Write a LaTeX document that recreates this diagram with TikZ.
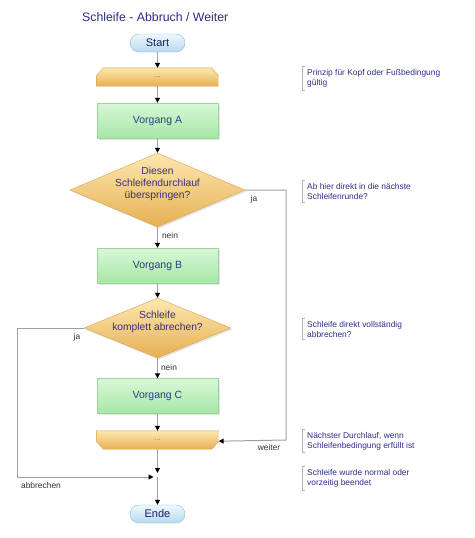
\documentclass[tikz,border=0pt]{standalone}
\usepackage{fontspec}
\setmainfont{Liberation Sans}
\usetikzlibrary{arrows.meta,shapes.geometric,shadows,backgrounds,calc}
\definecolor{titletxt}{HTML}{2D2D86}
\definecolor{cmttxt}{HTML}{2E2E8A}
\definecolor{proctxt}{HTML}{2B3F80}
\definecolor{dectxt}{HTML}{3D2D7D}
\definecolor{termtxt}{HTML}{1A1A6E}
\definecolor{lbltxt}{HTML}{333333}
\definecolor{procTop}{HTML}{D8F8D8}
\definecolor{procBot}{HTML}{A6E6A6}
\definecolor{procBorder}{HTML}{9CD49C}
\definecolor{decTop}{HTML}{FDE8AE}
\definecolor{decBot}{HTML}{E6B054}
\definecolor{decBorder}{HTML}{D2A452}
\definecolor{termTop}{HTML}{EEF8FC}
\definecolor{termBot}{HTML}{B6DAEE}
\definecolor{termBorder}{HTML}{8DBEDC}
\definecolor{linegray}{HTML}{A0A0A0}
\definecolor{brkgray}{HTML}{B4B4B4}
\definecolor{dotcol}{HTML}{A87A3A}
\begin{document}
\begin{tikzpicture}[x=1pt,y=-1pt,
  every node/.style={inner sep=0pt},
  proc/.style={draw=procBorder, top color=procTop, bottom color=procBot,
    minimum width=121pt, minimum height=35pt, text=proctxt,
    font=\fontsize{10.5}{12}\selectfont,
    drop shadow={shadow xshift=1.5pt, shadow yshift=-1.5pt, opacity=0.2}},
  dec/.style={diamond, draw=decBorder, top color=decTop, bottom color=decBot,
    aspect=2.36, drop shadow={shadow xshift=1.5pt, shadow yshift=-1.5pt, opacity=0.2}},
  dectext/.style={align=center, text=dectxt, font=\fontsize{10.3}{12}\selectfont},
  term/.style={draw=termBorder, top color=termTop, bottom color=termBot,
    rounded corners=9pt, minimum width=55pt, minimum height=18pt, text=termtxt,
    font=\fontsize{11}{13}\selectfont},
  loopbox/.style={minimum width=122pt, minimum height=18pt, text=dotcol,
    font=\fontsize{8}{10}\selectfont},
  loopshape/.style={draw=decBorder, top color=decTop, bottom color=decBot},
  flow/.style={draw=linegray, line width=1pt, -{Triangle[length=5pt,width=5pt,color=black]}},
  lbl/.style={text=lbltxt, font=\fontsize{8.4}{10}\selectfont},
  cmt/.style={anchor=west, align=left, text=cmttxt, font=\fontsize{8.4}{10}\selectfont},
  brk/.style={draw=brkgray, line width=0.8pt}
]
\useasboundingbox (0,0) rectangle (474,538);
\begin{pgfonlayer}{background}
\fill[white] (0,0) rectangle (474,538);
\end{pgfonlayer}

% title
\node[text=titletxt, font=\fontsize{12.3}{14}\selectfont, anchor=west] (title) at (82,17) {Schleife - Abbruch / Weiter};

% nodes
\node[term] (start) at (157.5,43) {Start};
\node[loopbox] (hex1) at (157.5,77) {...};
\node[proc] (va) at (157.5,120.5) {Vorgang A};
\node[dec, minimum width=175pt, minimum height=74pt] (d1) at (157.5,190) {};
\node[dectext] (d1t) at ([yshift=6pt]d1.center) {Diesen\\Schleifendurchlauf\\überspringen?};
\node[proc] (vb) at (157.5,265.5) {Vorgang B};
\node[dec, minimum width=147pt, minimum height=60pt] (d2) at (157.5,328) {};
\node[dectext] (d2t) at ([yshift=6pt]d2.center) {Schleife\\komplett abrechen?};
\node[proc] (vc) at (157.5,396) {Vorgang C};
\node[loopbox] (hex2) at (157.5,440) {...};
\node[term] (ende) at (157.5,514) {Ende};

% loop shapes
\begin{pgfonlayer}{background}
\path[loopshape] (hex1.south west) -- ([yshift=-8pt]hex1.north west) -- ([xshift=7pt]hex1.north west)
  -- ([xshift=-7pt]hex1.north east) -- ([yshift=-8pt]hex1.north east) -- (hex1.south east) -- cycle;
\path[loopshape] (hex2.north west) -- (hex2.north east) -- ([yshift=8pt]hex2.south east)
  -- ([xshift=-7pt]hex2.south east) -- ([xshift=7pt]hex2.south west) -- ([yshift=8pt]hex2.south west) -- cycle;
\end{pgfonlayer}

% helper coordinates
\coordinate (rj) at (286,440);
\coordinate (lj) at (17,477);
\coordinate (junc) at (157.5,477);

% connectors
\draw[flow] (start) -- (hex1);
\draw[flow] (hex1) -- (va);
\draw[flow] (va) -- (d1);
\draw[flow] (d1) -- (vb);
\draw[flow] (vb) -- (d2);
\draw[flow] (d2) -- (vc);
\draw[flow] (vc) -- (hex2);
\draw[flow] (d1.east) -| (rj) -- ([yshift=8pt]hex2.south east);
\draw[flow, shorten >=4pt] (hex2) -- (junc);
\draw[flow, shorten >=4pt] (d2.west) -| (lj) -- (junc);
\draw[flow] (junc) -- (ende);

% connector labels
\node[lbl] (lja1) at (254,199) {ja};
\node[lbl] (lnein1) at (170,235) {nein};
\node[lbl] (lja2) at (77,337) {ja};
\node[lbl] (lnein2) at (169,367) {nein};
\node[lbl] (lweiter) at (269,447) {weiter};
\node[lbl] (labbr) at (41,485) {abbrechen};

% comments
\node[cmt] (c1) at (307,78.5) {Prinzip für Kopf oder Fußbedingung\\gültig};
\node[cmt] (c2) at (307,191.5) {Ab hier direkt in die nächste\\Schleifenrunde?};
\node[cmt] (c3) at (307,329) {Schleife direkt vollständig\\abbrechen?};
\node[cmt] (c4) at (307,441) {Nächster Durchlauf, wenn\\Schleifenbedingung erfüllt ist};
\node[cmt] (c5) at (307,478.5) {Schleife wurde normal oder\\vorzeitig beendet};
\foreach \c in {c1,c2,c3,c4,c5}{
  \draw[brk] ([xshift=-2pt,yshift=2.5pt]\c.north west) -- ++(-2.5pt,0pt) |- ([xshift=-2pt,yshift=-2.5pt]\c.south west);
}
\end{tikzpicture}
\end{document}
